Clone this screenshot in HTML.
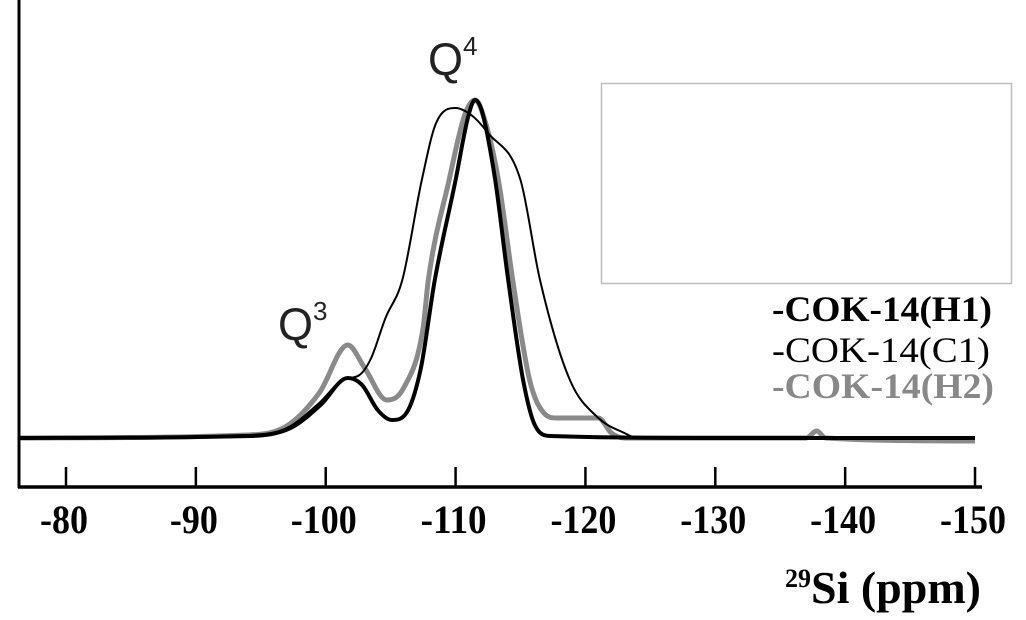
<!DOCTYPE html>
<html><head><meta charset="utf-8"><style>
html,body{margin:0;padding:0;background:#fff;width:1026px;height:620px;overflow:hidden}
svg{display:block}
</style></head><body>
<svg id="chart" width="1026" height="620">
<rect x="601.5" y="83.5" width="410" height="200" fill="none" stroke="#bdbdbd" stroke-width="1.5"/>
<g id="series"></g>
<line x1="19" y1="0" x2="19" y2="488" stroke="#000" stroke-width="3"/>
<line x1="18" y1="487" x2="982" y2="487" stroke="#000" stroke-width="3.5"/>
<g id="ticks"></g>
<text x="428" y="75" font-family="Liberation Sans, sans-serif" font-size="45" fill="#222">Q<tspan font-size="26" dy="-20">4</tspan></text>
<text x="278" y="340" font-family="Liberation Sans, sans-serif" font-size="45" fill="#222">Q<tspan font-size="26" dy="-20">3</tspan></text>
<text x="772" y="321" font-family="Liberation Serif, serif" font-size="36" font-weight="bold" fill="#000" textLength="220" lengthAdjust="spacingAndGlyphs">-COK-14(H1)</text>
<text x="772" y="362" font-family="Liberation Serif, serif" font-size="36" fill="#000" textLength="218" lengthAdjust="spacingAndGlyphs">-COK-14(C1)</text>
<text x="772" y="398" font-family="Liberation Serif, serif" font-size="36" font-weight="bold" fill="#888" textLength="222" lengthAdjust="spacingAndGlyphs">-COK-14(H2)</text>
<text x="785" y="603" font-family="Liberation Serif, serif" font-size="46" font-weight="bold" fill="#000"><tspan font-size="26" dy="-16">29</tspan><tspan dy="16">Si (ppm)</tspan></text>
</svg>
<script>
const tickValues = [-80,-90,-100,-110,-120,-130,-140,-150];
const tickLabels = ["-80","-90","-100","-110","-120","-130","-140","-150"];
const h1Ppm = [-76.5,-94.2,-97.3,-99.6,-101.7,-102.8,-104.0,-105.1,-106.1,-107.3,-108.4,-110.0,-111.0,-111.5,-112.0,-113.05,-114.05,-115.2,-116.1,-117.3,-130,-150];
const h1Int = [0,2,10,33,60,53,28,18,23,68,158,258,323,338,328,258,158,58,13,2,0,0];
const c1Ppm = [-76.5,-94,-97,-99.5,-101.3,-102.6,-103.5,-104.6,-105.9,-107.4,-108.5,-110.0,-111.3,-112.5,-115.0,-116.5,-118.8,-121,-123,-124,-150];
const c1Int = [0,3,10,35,58,63,80,120,158,258,315,330,322,305,258,158,58,20,5,0,0];
const h2Ppm = [-76.5,-94,-97,-99.5,-101.7,-103,-104.7,-106,-107.5,-107.9,-109.5,-110.7,-111.5,-112.2,-113.3,-114.4,-115.7,-116.8,-117.8,-119,-121,-122,-123,-137,-137.8,-138.5,-150];
const h2Int = [0,3,12,45,93,70,38,50,110,158,258,323,338,320,258,158,58,25,20,20,20,5,0,0,7,0,-3];

const X = p => 66 + (-80 - p) * 12.986;
const Y = v => 438 - v;
const NS = "http://www.w3.org/2000/svg";

// monotone cubic (Fritsch-Carlson) to avoid overshoot
function pathFrom(ps, vs){
  const xs = ps.map(X), ys = vs.map(Y), n = xs.length;
  const d = [], m = new Array(n);
  for(let i=0;i<n-1;i++) d.push((ys[i+1]-ys[i])/(xs[i+1]-xs[i]));
  m[0]=d[0]; m[n-1]=d[n-2];
  for(let i=1;i<n-1;i++) m[i] = (d[i-1]*d[i]<=0)?0:(d[i-1]+d[i])/2;
  for(let i=0;i<n-1;i++){
    if(d[i]===0){m[i]=0;m[i+1]=0;continue;}
    const a=m[i]/d[i], b=m[i+1]/d[i], s=a*a+b*b;
    if(s>9){const t=3/Math.sqrt(s); m[i]=t*a*d[i]; m[i+1]=t*b*d[i];}
  }
  let p = "M"+xs[0].toFixed(1)+","+ys[0].toFixed(1);
  for(let i=0;i<n-1;i++){
    const h=(xs[i+1]-xs[i])/3;
    p+=" C"+(xs[i]+h).toFixed(1)+","+(ys[i]+m[i]*h).toFixed(1)+" "+(xs[i+1]-h).toFixed(1)+","+(ys[i+1]-m[i+1]*h).toFixed(1)+" "+xs[i+1].toFixed(1)+","+ys[i+1].toFixed(1);
  }
  return p;
}
const g = document.getElementById("series");
function addLine(ps, vs, color, w, name){
  const el = document.createElementNS(NS,"path");
  el.setAttribute("d", pathFrom(ps,vs));
  el.setAttribute("fill","none");
  el.setAttribute("stroke",color);
  el.setAttribute("stroke-width",w);
  el.setAttribute("stroke-linejoin","round");
  
  
  g.appendChild(el);
}
addLine(h2Ppm,h2Int,"#8a8a8a",5,"series-h2");
addLine(c1Ppm,c1Int,"#000",2,"series-c1");
addLine(h1Ppm,h1Int,"#000",4,"series-h1");

const t = document.getElementById("ticks");
tickValues.forEach((v,i)=>{
  const x = X(v);
  const ln = document.createElementNS(NS,"line");
  ln.setAttribute("x1",x);ln.setAttribute("x2",x);
  ln.setAttribute("y1",467);ln.setAttribute("y2",487);
  ln.setAttribute("stroke","#000");ln.setAttribute("stroke-width",2.5);
  
  
  t.appendChild(ln);
  const tx = document.createElementNS(NS,"text");
  const w = tickLabels[i].length > 3 ? 66 : 48;
  tx.setAttribute("x",x-2-w/2);tx.setAttribute("y",533);
  tx.setAttribute("textLength",w);
  tx.setAttribute("lengthAdjust","spacingAndGlyphs");
  tx.setAttribute("font-family","Liberation Serif, serif");
  tx.setAttribute("font-size","40");tx.setAttribute("font-weight","bold");
  tx.textContent = tickLabels[i];
  
  
  t.appendChild(tx);
});
</script>
</body></html>
